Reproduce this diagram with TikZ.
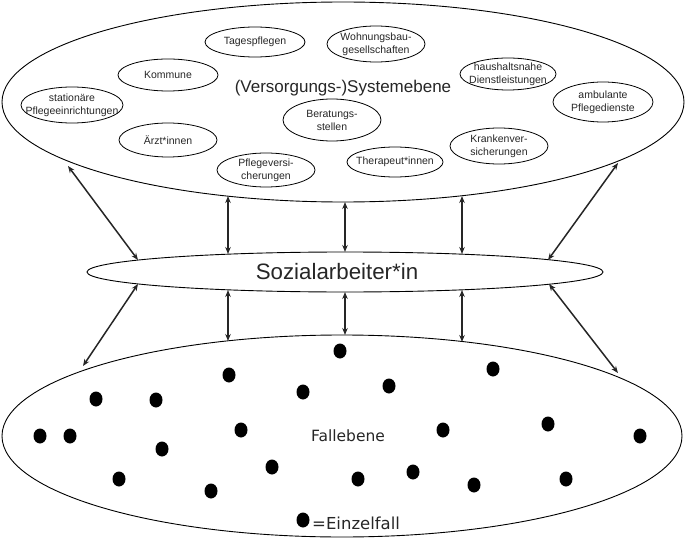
\documentclass[tikz,border=0pt]{standalone}
\usepackage{fontspec}
\setmainfont{Liberation Sans}
\newfontfamily\dvfont{DejaVu Sans}
\usetikzlibrary{shapes.geometric,arrows.meta,calc}
\begin{document}
\begin{tikzpicture}[x=1pt,y=-1pt,
  level/.style={ellipse, draw, line width=0.9pt, inner sep=0pt, outer sep=0pt},
  org/.style={ellipse, draw, line width=0.8pt, inner sep=0pt, outer sep=0pt},
  orgtext/.style={font=\fontsize{10.5}{13}\selectfont, align=center, inner sep=0pt, text=black!85},
  dot/.style={ellipse, fill=black, minimum width=13pt, minimum height=15pt, inner sep=0pt},
  arr/.style={line width=1.5pt, draw=black!85, {Stealth[length=7pt,width=5.5pt]}-{Stealth[length=7pt,width=5.5pt]}}
]
\useasboundingbox (0,0) rectangle (685,540);
% big levels
\node[level, minimum width=682pt, minimum height=200pt] (T) at (343,102) {};
\node[level, minimum width=516pt, minimum height=40pt] (M) at (345,272) {};
\node[level, minimum width=680pt, minimum height=202pt] (B) at (342,436) {};
\node[font=\fontsize{17}{20}\selectfont, text=black!85] (Tt) at (343,88) {(Versorgungs-)Systemebene};
\node[font=\fontsize{22.3}{25}\selectfont, text=black!85] (Mt) at (337,272) {Sozialarbeiter*in};
\node[font=\dvfont\fontsize{15.5}{18}\selectfont, text=black!85] (Bt) at (348,436) {Fallebene};
% organisations
\node[org, minimum width=100pt, minimum height=30pt, label={[orgtext]center:Tagespflegen}] (tages) at (255,42) {};
\node[org, minimum width=98pt, minimum height=36pt, label={[orgtext]center:{Wohnungsbau-\\gesellschaften}}] (wohn) at (376,44) {};
\node[org, minimum width=100pt, minimum height=32pt, label={[orgtext]center:Kommune}] (kommune) at (168,75) {};
\node[org, minimum width=96pt, minimum height=32pt, label={[orgtext]center:{haushaltsnahe\\Dienstleistungen}}] (haus) at (508,74) {};
\node[org, minimum width=102pt, minimum height=36pt, label={[orgtext]center:{stationäre\\Pflegeeinrichtungen}}] (stat) at (72,105) {};
\node[org, minimum width=100pt, minimum height=40pt, label={[orgtext]center:{ambulante\\Pflegedienste}}] (amb) at (603,102) {};
\node[org, minimum width=98pt, minimum height=42pt, label={[orgtext]center:{Beratungs-\\stellen}}] (berat) at (332,120) {};
\node[org, minimum width=98pt, minimum height=34pt, label={[orgtext]center:Ärzt*innen}] (aerzt) at (168,140) {};
\node[org, minimum width=98pt, minimum height=36pt, label={[orgtext]center:{Krankenver-\\sicherungen}}] (kranken) at (499,146) {};
\node[org, minimum width=98pt, minimum height=34pt, label={[orgtext]center:{Pflegeversi-\\cherungen}}] (pflegev) at (266,170) {};
\node[org, minimum width=96pt, minimum height=30pt, label={[orgtext]center:Therapeut*innen}] (thera) at (395,162) {};
% arrows top <-> middle
\draw[arr] ($(T.center)+(-275,64)$) -- ($(M.center)+(-207,-12)$);
\draw[arr] ($(T.center)+(-115,94)$) -- ($(M.center)+(-117,-18)$);
\draw[arr] ($(T.center)+(2,100)$) -- ($(M.center)+(0,-20)$);
\draw[arr] ($(T.center)+(119,94)$) -- ($(M.center)+(117,-18)$);
\draw[arr] ($(T.center)+(275,61)$) -- ($(M.center)+(203,-12)$);
% arrows middle <-> bottom
\draw[arr] ($(M.center)+(-207,12)$) -- ($(B.center)+(-259,-70)$);
\draw[arr] ($(M.center)+(-117,18)$) -- ($(B.center)+(-114,-95)$);
\draw[arr] ($(M.center)+(0,20)$) -- ($(B.center)+(3,-101)$);
\draw[arr] ($(M.center)+(117,18)$) -- ($(B.center)+(120,-94)$);
\draw[arr] ($(M.center)+(204,12)$) -- ($(B.center)+(276,-63)$);
% cases
\node[dot] (d1) at (340,351) {};
\node[dot] (d2) at (229,375) {};
\node[dot] (d3) at (493,369) {};
\node[dot] (d4) at (96,399) {};
\node[dot] (d5) at (156,400) {};
\node[dot] (d6) at (303,392) {};
\node[dot] (d7) at (389,386) {};
\node[dot] (d8) at (40,436) {};
\node[dot] (d9) at (70,436) {};
\node[dot] (d10) at (241,430) {};
\node[dot] (d11) at (443,430) {};
\node[dot] (d12) at (548,424) {};
\node[dot] (d13) at (640,436) {};
\node[dot] (d14) at (162,449) {};
\node[dot] (d15) at (272,467) {};
\node[dot] (d16) at (119,479) {};
\node[dot] (d17) at (211,491) {};
\node[dot] (d18) at (358,479) {};
\node[dot] (d19) at (413,472) {};
\node[dot] (d20) at (474,485) {};
\node[dot] (d21) at (566,479) {};
% legend
\node[dot] (ld) at (303,520) {};
\node[font=\dvfont\fontsize{16.5}{19}\selectfont, anchor=west, inner sep=0pt, text=black!85] (lt) at (312,523) {=Einzelfall};
\end{tikzpicture}
\end{document}
